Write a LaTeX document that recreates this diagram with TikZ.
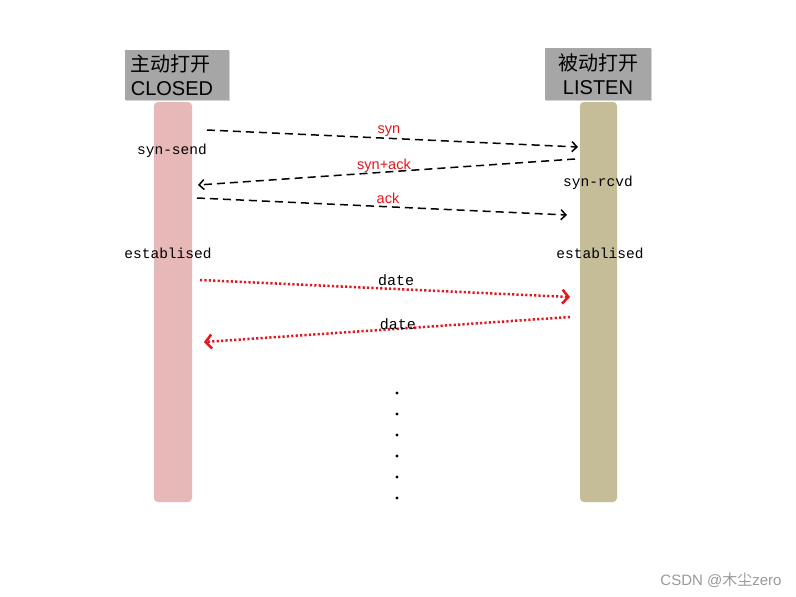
\documentclass[tikz,border=0pt]{standalone}
\usepackage{fontspec}
\setmainfont{Liberation Sans}
\newfontfamily\cjk{Noto Sans CJK SC}
\newfontfamily\monof{Liberation Mono}
\usetikzlibrary{arrows.meta,shadows}

\definecolor{barpink}{HTML}{E6B8B7}
\definecolor{barkhaki}{HTML}{C4BD97}
\definecolor{headgray}{HTML}{A6A6A6}
\definecolor{msgred}{HTML}{E8141B}

\tikzset{
  lifebar/.style={draw=none, rounded corners=4pt},
  headbox/.style={fill=headgray, draw=none, minimum width=104pt, minimum height=50pt,
    align=center, font=\fontsize{20}{24}\selectfont, inner sep=0pt,
    drop shadow={shadow xshift=1pt, shadow yshift=-1pt, opacity=.35}},
  statetext/.style={font=\monof\fontsize{14.5}{15}\selectfont},
  ctrlmsg/.style={dash pattern=on 8pt off 5pt, line width=1.5pt, -{Straight Barb[length=5pt,width=10pt]}},
  datamsg/.style={msgred, dash pattern=on 2.2pt off 2.2pt, line width=2.5pt, -{Straight Barb[length=6pt,width=14pt]}},
  ctrllabel/.style={text=msgred, font=\fontsize{14.5}{15}\selectfont, inner sep=1pt},
  datalabel/.style={font=\monof\fontsize{15}{16}\selectfont, inner sep=1pt}
}

\begin{document}
\begin{tikzpicture}[x=1pt, y=-1pt]
        \useasboundingbox[fill=white] (0,0) rectangle (796,597);
        % two ends
        \fill[barpink, lifebar] (154,102) rectangle (192,502);
        \fill[barkhaki, lifebar] (580,102) rectangle (617,502);
        \node[headbox, align=left] (client) at (177,75) {{\cjk 主动打开}\\CLOSED\hspace*{10pt}};
        \node[headbox, minimum width=106pt, minimum height=52pt] (server) at (598,74) {{\cjk 被动打开}\\LISTEN};
        % states
        \node[statetext] (synsend) at (172,151) {syn-send};
        \node[statetext] (synrcvd) at (598,183) {syn-rcvd};
        \node[statetext] (estc) at (168,253) {establised};
        \node[statetext] (ests) at (600,253) {establised};
        % message ends
        \coordinate (syn1) at (207,130);   \coordinate (syn2) at (578,147);
        \coordinate (sa1) at (575,159);    \coordinate (sa2) at (198,185);
        \coordinate (ack1) at (197,198);   \coordinate (ack2) at (567,215);
        \coordinate (dat1) at (200,280);   \coordinate (dat2) at (570,297);
        \coordinate (datb1) at (570,317);  \coordinate (datb2) at (204,342);
        % handshake
        \draw[ctrlmsg] (syn1) -- (syn2);
        \node[ctrllabel] (synlab) at (389,131) {syn};
        \draw[ctrlmsg] (sa1) -- (sa2);
        \node[ctrllabel] (salab) at (384,166) {syn+ack};
        \draw[ctrlmsg] (ack1) -- (ack2);
        \node[ctrllabel] (acklab) at (388,198) {ack};
        % data
        \draw[datamsg] (dat1) -- (dat2);
        \node[datalabel] (datlab) at (396,280) {date};
        \draw[datamsg] (datb1) -- (datb2);
        \node[datalabel] (datblab) at (398,324) {date};
        % more
        \foreach \y in {393,414,435,456,477,498}
            \fill (397,\y) circle (1.6pt);
        \node[text=gray!80, font=\fontsize{15}{16}\selectfont] (mark) at (721,580) {CSDN @{\cjk 木尘}zero};
    \end{tikzpicture}
\end{document}
